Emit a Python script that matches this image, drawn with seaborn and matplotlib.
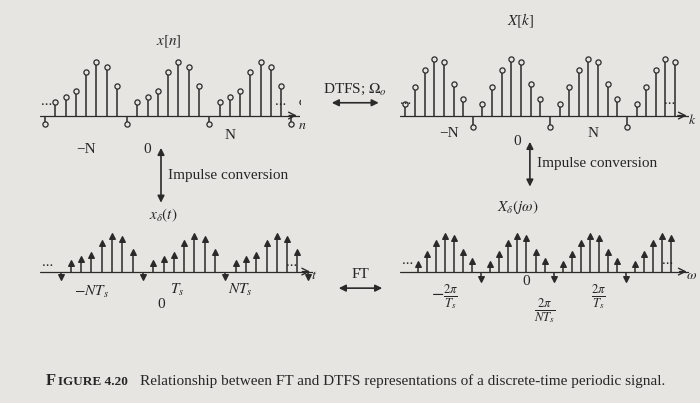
import numpy as np
import seaborn as sns
import matplotlib.pyplot as plt

sns.set_theme(style="white")
plt.rcParams['font.family'] = ['Liberation Serif', 'DejaVu Serif']
plt.rcParams['mathtext.fontset'] = 'stix'

# one period of each signal
xn_period = [0.35, 0.45, 0.8, 1.0, 0.9, 0.55, -0.15, 0.25]
Xk_period = [0.95, 0.55, 0.3, -0.2, 0.2, 0.5, 0.8, 1.0]
N = 8
n_idx = np.arange(-10, 16)
k_idx = np.arange(-12, 17)
xn = np.array(xn_period)[n_idx % N]
Xk = np.array(Xk_period)[k_idx % N]

BG = "#e6e5e1"
INK = "#2a2a2a"
fig = plt.figure(figsize=(7, 4.03), dpi=100, facecolor=BG)


def panel(rect, xlim, ylim):
    ax = fig.add_axes(rect)
    ax.set_xlim(*xlim)
    ax.set_ylim(*ylim)
    ax.axis("off")
    return ax


def seq(ax, idx, vals, circles=True):
    ax.axhline(0, color=INK, lw=0.9, zorder=1)
    ax.vlines(idx, 0, vals, color=INK, lw=1.1)
    if circles:
        ax.scatter(idx, vals, s=14, facecolor=BG, edgecolor=INK, lw=0.9, zorder=3)
    else:
        up = vals >= 0
        ax.scatter(idx[up], vals[up], marker="^", s=16, color=INK, zorder=3)
        ax.scatter(idx[~up], vals[~up], marker="v", s=16, color=INK, zorder=3)


# top-left: x[n]
ax1 = panel([0.057, 0.653, 0.371, 0.248], (-10.5, 14.8), (-0.45, 1.4))
seq(ax1, n_idx, xn)
ax1.annotate("", xy=(14.8, 0), xytext=(13.5, 0), arrowprops=dict(arrowstyle="->", color=INK))
ax1.text(0.8, 1.3, r"$x[n]$", fontsize=11)
ax1.text(-10.4, 0.2, "...", fontsize=11)
ax1.text(12.4, 0.2, "...", fontsize=11)
ax1.text(14.6, -0.25, r"$n$", fontsize=10)
for lab, pos in [("\u2212N", -6), ("0", 0)]:
    ax1.text(pos, -0.5, lab, fontsize=11, ha="center", va="top")
ax1.text(8, -0.25, "N", fontsize=11, ha="center", va="top")

# top-right: X[k]
ax2 = panel([0.571, 0.65, 0.414, 0.26], (-12.6, 17.5), (-0.45, 1.4))
seq(ax2, k_idx, Xk)
ax2.annotate("", xy=(17.5, 0), xytext=(16, 0), arrowprops=dict(arrowstyle="->", color=INK))
ax2.text(0, 1.6, r"$X[k]$", fontsize=11, ha="center")
ax2.text(-12.6, 0.2, "...", fontsize=11)
ax2.text(14.9, 0.2, "...", fontsize=11)
ax2.text(17.3, -0.15, r"$k$", fontsize=10)
ax2.text(-7.5, -0.2, "\u2212N", fontsize=11, ha="center", va="top")
ax2.text(-0.4, -0.35, "0", fontsize=11, ha="center", va="top")
ax2.text(7.5, -0.2, "N", fontsize=11, ha="center", va="top")

# bottom-left: x_delta(t)
ax3 = panel([0.057, 0.255, 0.39, 0.24], (-12.0, 14.5), (-0.8, 1.9))
seq(ax3, n_idx, xn, circles=False)
ax3.annotate("", xy=(14.5, 0), xytext=(13.2, 0), arrowprops=dict(arrowstyle="->", color=INK))
ax3.text(0, 1.45, r"$x_\delta(t)$", fontsize=11, ha="center")
ax3.text(-11.8, 0.15, "...", fontsize=11)
ax3.text(11.9, 0.15, "...", fontsize=11)
ax3.text(14.3, -0.2, r"$t$", fontsize=10)
ax3.text(-7, -0.35, r"$-NT_s$", fontsize=11, ha="center", va="top")
ax3.text(-0.2, -0.75, "0", fontsize=11, ha="center", va="top")
ax3.text(1.3, -0.3, r"$T_s$", fontsize=11, ha="center", va="top")
ax3.text(7.5, -0.3, r"$NT_s$", fontsize=11, ha="center", va="top")

# bottom-right: X_delta(jw)
ax4 = panel([0.571, 0.255, 0.414, 0.24], (-14.0, 18.0), (-0.8, 1.9))
seq(ax4, k_idx, Xk, circles=False)
ax4.annotate("", xy=(18.0, 0), xytext=(16.6, 0), arrowprops=dict(arrowstyle="->", color=INK))
ax4.text(-1, 1.7, r"$X_\delta(j\omega)$", fontsize=11, ha="center")
ax4.text(-13.7, 0.2, "...", fontsize=11)
ax4.text(15.0, 0.2, "...", fontsize=11)
ax4.text(17.6, -0.2, r"$\omega$", fontsize=10)
ax4.text(-9, -0.3, r"$-\frac{2\pi}{T_s}$", fontsize=13, ha="center", va="top")
ax4.text(0, -0.1, "0", fontsize=11, ha="center", va="top")
ax4.text(2, -0.7, r"$\frac{2\pi}{NT_s}$", fontsize=13, ha="center", va="top")
ax4.text(8, -0.3, r"$\frac{2\pi}{T_s}$", fontsize=13, ha="center", va="top")

# connecting arrows and labels
arr = dict(arrowstyle="<|-|>", color=INK, lw=1.2, mutation_scale=10)
fig.text(0.507, 0.77, r"DTFS; $\Omega_o$", fontsize=11, ha="center")
plt.annotate("", xy=(0.545, 0.745), xytext=(0.47, 0.745),
             xycoords="figure fraction", arrowprops=arr)
fig.text(0.515, 0.31, "FT", fontsize=11, ha="center")
plt.annotate("", xy=(0.55, 0.285), xytext=(0.48, 0.285),
             xycoords="figure fraction", arrowprops=arr)
plt.annotate("", xy=(0.23, 0.49), xytext=(0.23, 0.64), xycoords="figure fraction", arrowprops=arr)
fig.text(0.24, 0.555, "Impulse conversion", fontsize=11)
plt.annotate("", xy=(0.757, 0.53), xytext=(0.757, 0.655), xycoords="figure fraction", arrowprops=arr)
fig.text(0.767, 0.585, "Impulse conversion", fontsize=11)

fig.text(0.065, 0.045, "F", fontsize=12, fontweight="bold")
fig.text(0.083, 0.045, "IGURE 4.20", fontsize=9.5, fontweight="bold")
fig.text(0.2, 0.045, "Relationship between FT and DTFS representations of a discrete-time periodic signal.",
         fontsize=11)

fig.savefig("out.png", dpi=100, facecolor=BG)
